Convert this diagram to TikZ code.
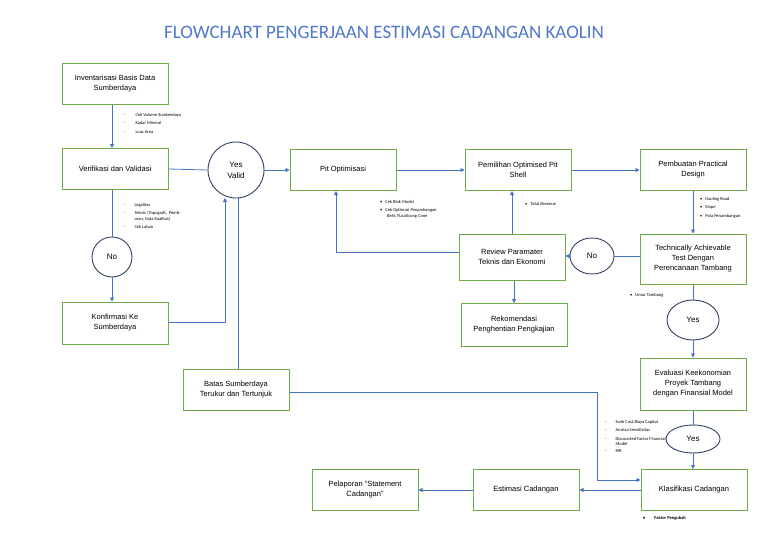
\documentclass[tikz,border=0pt]{standalone}
\usepackage{fontspec}
\setmainfont{Liberation Sans}
\newfontfamily\calfnt{Carlito}
\usetikzlibrary{arrows.meta,shapes.geometric}
\definecolor{bgreen}{RGB}{112,173,71}
\definecolor{lblue}{RGB}{68,114,196}
\definecolor{dblue}{RGB}{47,64,100}
\definecolor{tblue}{RGB}{80,120,200}
\begin{document}
\begin{tikzpicture}[x=1pt,y=-1pt,
 box/.style={draw=bgreen,line width=1pt,minimum width=106pt,minimum height=41pt,align=center,font=\fontsize{7.5}{10}\selectfont,inner sep=2pt},
 circ/.style={draw=dblue,line width=0.9pt,ellipse,align=center,font=\fontsize{8}{11}\selectfont,inner sep=0pt},
 con/.style={draw=lblue,line width=0.8pt},
 arr/.style={con,-{Triangle[length=4pt,width=4pt]}},
 note/.style={font=\calfnt\fontsize{4.5}{5.5}\selectfont,align=left,anchor=north west,inner sep=0pt}]
\useasboundingbox (0,0) rectangle (768,543);
\node[font=\calfnt\fontsize{19}{22}\selectfont,text=tblue] (title) at (384,32) {FLOWCHART PENGERJAAN ESTIMASI CADANGAN KAOLIN};
\node[box] (inv) at (115,84) {Inventarisasi Basis Data\\Sumberdaya};
\node[box] (ver) at (115,169) {Verifikasi dan Validasi};
\node[draw=dblue,line width=0.9pt,circle,minimum size=56pt,align=center,font=\fontsize{8}{11}\selectfont,inner sep=0pt] (yv) at (236,170) {Yes\\Valid};
\node[box] (pit) at (343,170) {Pit Optimisasi};
\node[box] (pem) at (518,170) {Pemilihan Optimised Pit\\Shell};
\node[box] (pd) at (693,170) {Pembuatan Practical\\Design};
\node[box,minimum height=50pt] (tech) at (693,259) {Technically Achievable\\Test Dengan\\Perencanaan Tambang};
\node[circ,minimum width=44pt,minimum height=36pt] (no2) at (592,256) {No};
\node[box,minimum height=46pt] (rev) at (512,257) {Review Paramater\\Teknis dan Ekonomi};
\node[box,minimum height=43pt] (rek) at (514,325) {Rekomendasi\\Penghentian Pengkajian};
\node[circ,minimum width=52pt,minimum height=40pt] (yes1) at (693,320) {Yes};
\node[box,minimum height=52pt] (eva) at (693,384) {Evaluasi Keekonomian\\Proyek Tambang\\dengan Finansial Model};
\node[circ,minimum width=54pt,minimum height=28pt] (yes2) at (693,439) {Yes};
\node[box] (kla) at (694,490) {Klasifikasi Cadangan};
\node[box] (est) at (526,490) {Estimasi Cadangan};
\node[box] (pel) at (365,490) {Pelaporan ``Statement\\Cadangan''};
\node[box] (bat) at (236,390) {Batas Sumberdaya\\Terukur dan Tertunjuk};
\node[circ,minimum width=40pt,minimum height=40pt] (no1) at (112,257) {No};
\node[box,minimum height=42pt] (kon) at (115,323) {Konfirmasi Ke\\Sumberdaya};
% connectors
\draw[arr] (inv.south -| no1) -- (ver.north -| no1);
\draw[con] (ver.east) -- (yv.west);
\draw[arr] (yv.east) -- (pit.west);
\draw[arr] (pit.east) -- (pem.west);
\draw[arr] (pem.east) -- (pd.west);
\draw[arr] (pd.south) -- (tech.north);
\draw[con] (tech.west |- no2) -- (no2.east);
\draw[arr] (no2.west) -- (rev.east |- no2);
\draw[arr] (rev.north) -- (pem.south -| rev.north);
\coordinate (rp) at (336,252);
\draw[arr] (rev.west |- rp) -- (rp) -- (pit.south -| rp);
\draw[arr] (rev.south -| rek) -- (rek.north);
\draw[con] (tech.south) -- (yes1.north);
\draw[arr] (yes1.south) -- (eva.north);
\draw[con] (eva.south) -- (yes2.north);
\draw[arr] (yes2.south) -- (kla.north -| yes2);
\draw[arr] (kla.west) -- (est.east);
\draw[arr] (est.west) -- (pel.east);
\draw[con] (ver.south -| no1) -- (no1.north);
\draw[arr] (no1.south) -- (kon.north -| no1);
\coordinate (k1) at (225,322);
\coordinate (k2) at (225,198);
\draw[arr] (kon.east |- k1) -- (k1) -- (k2);
\coordinate (t1) at (238,198);
\draw[con] (bat.north -| t1) -- (t1);
\coordinate (b1) at (597,392);
\coordinate (b2) at (597,480);
\draw[arr] (bat.east |- b1) -- (b1) -- (b2) -- (kla.west |- b2);
% notes
\node[note] (n1) at (124,113) {-\hspace{10pt}Cek Volume Sumberdaya\\[3pt]-\hspace{10pt}Kadar Mineral\\[3pt]-\hspace{10pt}Luas Area};
\node[note] (n2) at (124,203) {-\hspace{9pt}Legalitas\\[3pt]-\hspace{9pt}\parbox[t]{46pt}{Teknis (Topografi, Pemboran, Data Kualitas)}\\[3pt]-\hspace{9pt}Cek Lahan};
\node[note] (n3) at (380,200) {•\hspace{3pt}Cek Blok Model\\[3pt]•\hspace{3pt}Cek Optimasi Penambangan\\\hspace{7pt}BeSr, FLoatIcong Cone};
\node[note] (n4) at (525,202) {•\hspace{3pt}Total Revenue};
\node[note] (n5) at (700,197) {•\hspace{3pt}Hauling Road\\[3pt]•\hspace{3pt}Slope\\[3pt]•\hspace{3pt}Pola Penambangan};
\node[note] (n6) at (630,293) {•\hspace{3pt}Umur Tambang};
\node[note] (n7) at (605,420) {-\hspace{9pt}Sunk Cost,Biaya Capital\\[3pt]-\hspace{9pt}Analisa Sensitivitas\\[3pt]-\hspace{9pt}\parbox[t]{50pt}{Discounted Factor Financial Model}\\[3pt]-\hspace{9pt}IRR};
\node[note,font=\calfnt\bfseries\fontsize{4.5}{5.5}\selectfont] (n8) at (643,516) {•\hspace{9pt}Faktor Pengubah};
\end{tikzpicture}
\end{document}
